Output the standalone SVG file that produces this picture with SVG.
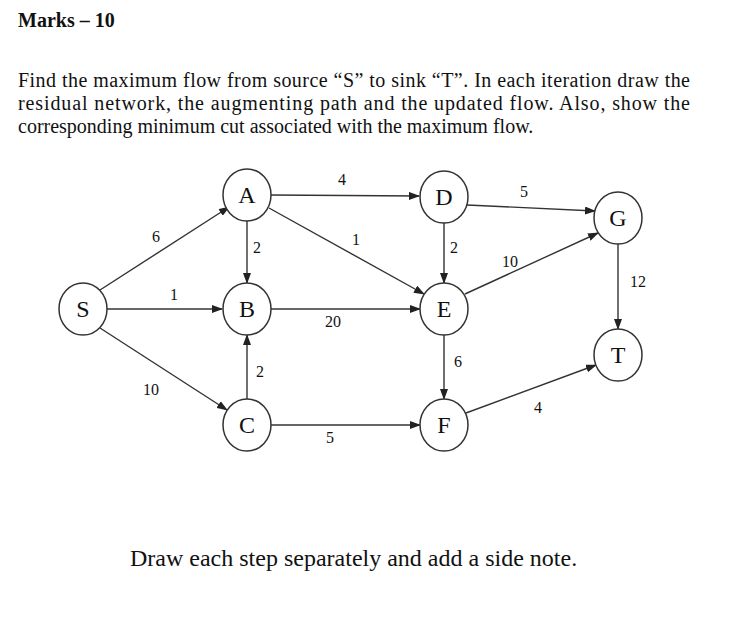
<svg xmlns="http://www.w3.org/2000/svg" width="736" height="624" viewBox="0 0 736 624">
<defs>
<marker id="ah" markerWidth="11" markerHeight="8" refX="10" refY="4" orient="auto" markerUnits="userSpaceOnUse"><path d="M0,0 L11,4 L0,8 Z" fill="#222"/></marker>
<style>
.t{font-family:"Liberation Serif",serif;fill:#111}
.n ellipse{fill:#fff;stroke:#333;stroke-width:1.5}
.n text{font-family:"Liberation Serif",serif;font-size:24px;text-anchor:middle;fill:#111}
.e line{stroke:#333;stroke-width:1.4;marker-end:url(#ah)}
.l{font-family:"Liberation Serif",serif;font-size:16px;text-anchor:middle;fill:#111}
</style>
</defs>
<rect width="736" height="624" fill="#fff"/>
<text class="t" x="18" y="27" font-size="20" font-weight="bold">Marks – 10</text>
<text class="t" x="18" y="87" font-size="20" textLength="672" lengthAdjust="spacing">Find the maximum flow from source “S” to sink “T”. In each iteration draw the</text>
<text class="t" x="18" y="110" font-size="20" textLength="672" lengthAdjust="spacing">residual network, the augmenting path and the updated flow. Also, show the</text>
<text class="t" x="18" y="133" font-size="20">corresponding minimum cut associated with the maximum flow.</text>
<text class="t" x="130" y="566" font-size="24">Draw each step separately and add a side note.</text>
<g id="edges" class="e">
<line x1="100" y1="290" x2="229" y2="207"/>
<line x1="107" y1="309" x2="222" y2="309"/>
<line x1="100" y1="328" x2="227" y2="410"/>
<line x1="247" y1="221" x2="247" y2="283"/>
<line x1="271" y1="195" x2="419" y2="196"/>
<line x1="269" y1="208" x2="424" y2="294"/>
<line x1="247" y1="399" x2="247" y2="335"/>
<line x1="271" y1="425" x2="420" y2="425"/>
<line x1="271" y1="309" x2="420" y2="309"/>
<line x1="444" y1="223" x2="444" y2="283"/>
<line x1="467" y1="205" x2="595" y2="211"/>
<line x1="465" y1="294" x2="598" y2="233"/>
<line x1="444" y1="335" x2="444" y2="399"/>
<line x1="618" y1="244" x2="618" y2="329"/>
<line x1="466" y1="413" x2="596" y2="365"/>
</g>
<g id="labels">
<text class="l" x="342" y="185">4</text>
<text class="l" x="524" y="197">5</text>
<text class="l" x="156" y="242">6</text>
<text class="l" x="257" y="253">2</text>
<text class="l" x="356" y="245">1</text>
<text class="l" x="454" y="253">2</text>
<text class="l" x="510" y="267">10</text>
<text class="l" x="638" y="287">12</text>
<text class="l" x="174" y="300">1</text>
<text class="l" x="333" y="327">20</text>
<text class="l" x="458" y="367">6</text>
<text class="l" x="260" y="377">2</text>
<text class="l" x="151" y="395">10</text>
<text class="l" x="538" y="413">4</text>
<text class="l" x="330" y="443">5</text>
</g>
<g id="S" class="n"><ellipse cx="83" cy="309" rx="24" ry="26"/><text x="83" y="317">S</text></g>
<g id="A" class="n"><ellipse cx="247" cy="195" rx="24" ry="26"/><text x="247" y="203">A</text></g>
<g id="B" class="n"><ellipse cx="247" cy="309" rx="24" ry="26"/><text x="247" y="317">B</text></g>
<g id="C" class="n"><ellipse cx="247" cy="425" rx="24" ry="26"/><text x="247" y="433">C</text></g>
<g id="D" class="n"><ellipse cx="444" cy="197" rx="24" ry="26"/><text x="444" y="205">D</text></g>
<g id="E" class="n"><ellipse cx="444" cy="309" rx="24" ry="26"/><text x="444" y="317">E</text></g>
<g id="F" class="n"><ellipse cx="444" cy="425" rx="24" ry="26"/><text x="444" y="433">F</text></g>
<g id="G" class="n"><ellipse cx="618" cy="218" rx="24" ry="26"/><text x="618" y="226">G</text></g>
<g id="T" class="n"><ellipse cx="618" cy="355" rx="24" ry="26"/><text x="618" y="363">T</text></g>
</svg>
